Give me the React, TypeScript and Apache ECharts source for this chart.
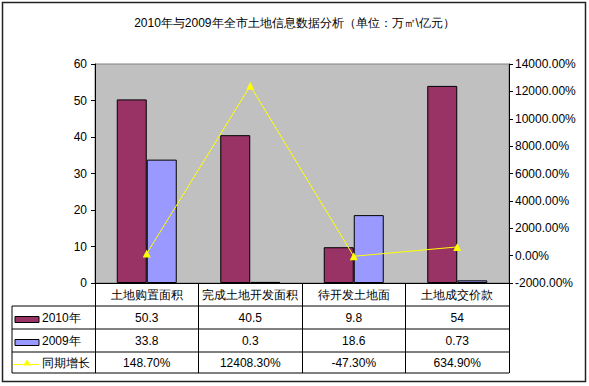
import React, { useEffect, useRef } from "react";
import * as echarts from "echarts";

const categories = ["土地购置面积", "完成土地开发面积", "待开发土地面", "土地成交价款"];
const values2010 = [50.3, 40.5, 9.8, 54];
const values2009 = [33.8, 0.3, 18.6, 0.73];
const growth = [148.7, 12408.3, -47.3, 634.9];
const seriesNames = ["2010年", "2009年", "同期增长"];
const titleText = "2010年与2009年全市土地信息数据分析（单位：万㎡\\亿元）";

const FONT = "Liberation Sans, Arial, sans-serif";
const C2010 = "#993366";
const C2009 = "#9999FF";
const CLINE = "#FFFF00";

const GL = 95, GR = 509, GT = 64, GB = 283;
const rowLines = [306, 329, 352, 373];
const tableLeft = 12;

export default function App() {
  const ref = useRef<HTMLDivElement>(null);
  useEffect(() => {
    const chart = echarts.init(ref.current!, null, { renderer: "svg" });
    const colW = (GR - GL) / categories.length;
    const graphics: any[] = [];
    graphics.push({
      type: "rect",
      shape: { x: 2.5, y: 2.5, width: 583, height: 379 },
      style: { fill: "none", stroke: "#222", lineWidth: 1.5 },
      z: 100,
    });
    rowLines.forEach((y) => {
      graphics.push({
        type: "line",
        shape: { x1: tableLeft, y1: y, x2: GR, y2: y },
        style: { stroke: "#000", lineWidth: 1 },
        z: 100,
      });
    });
    graphics.push({
      type: "line",
      shape: { x1: tableLeft, y1: rowLines[0], x2: tableLeft, y2: rowLines[3] },
      style: { stroke: "#000", lineWidth: 1 },
      z: 100,
    });
    const rows: { vals: string[]; name: string; kind: string; color: string }[] = [
      { vals: values2010.map(String), name: seriesNames[0], kind: "bar", color: C2010 },
      { vals: values2009.map(String), name: seriesNames[1], kind: "bar", color: C2009 },
      { vals: growth.map((g) => g.toFixed(2) + "%"), name: seriesNames[2], kind: "line", color: CLINE },
    ];
    rows.forEach((r, ri) => {
      const yc = (rowLines[ri] + rowLines[ri + 1]) / 2;
      if (r.kind === "bar") {
        graphics.push({
          type: "rect",
          shape: { x: 15, y: yc - 1, width: 24, height: 6 },
          style: { fill: r.color, stroke: "#000", lineWidth: 1 },
          z: 100,
        });
      } else {
        graphics.push({
          type: "line",
          shape: { x1: 14, y1: yc + 2, x2: 39, y2: yc + 2 },
          style: { stroke: r.color, lineWidth: 1 },
          z: 100,
        });
        graphics.push({
          type: "polygon",
          shape: { points: [[27, yc - 3], [23, yc + 3], [31, yc + 3]] },
          style: { fill: r.color },
          z: 101,
        });
      }
      graphics.push({
        type: "text",
        x: 42,
        y: yc,
        style: { text: r.name, fill: "#000", font: `12px ${FONT}`, verticalAlign: "middle", align: "left" },
        z: 100,
      });
      r.vals.forEach((v, ci) => {
        graphics.push({
          type: "text",
          x: GL + colW * (ci + 0.5),
          y: yc,
          style: { text: v, fill: "#000", font: `12px ${FONT}`, verticalAlign: "middle", align: "center" },
          z: 100,
        });
      });
    });

    chart.setOption({
      animation: false,
      backgroundColor: "#fff",
      title: {
        text: titleText,
        left: "center",
        top: 12,
        textStyle: { fontFamily: FONT, fontSize: 12, fontWeight: "normal", color: "#000" },
      },
      grid: {
        left: GL,
        right: 589 - GR,
        top: GT,
        bottom: 386 - GB,
        show: true,
        backgroundColor: "#C0C0C0",
        borderColor: "#808080",
        borderWidth: 1,
      },
      xAxis: {
        type: "category",
        data: categories,
        axisLine: { lineStyle: { color: "#000" } },
        axisTick: { show: true, length: rowLines[3] - GB, lineStyle: { color: "#000" } },
        axisLabel: { fontFamily: FONT, fontSize: 12, color: "#000", margin: 6, interval: 0 },
      },
      yAxis: [
        {
          type: "value",
          min: 0,
          max: 60,
          interval: 10,
          splitLine: { show: false },
          axisLine: { show: true, lineStyle: { color: "#000" } },
          axisTick: { show: true, length: 4, lineStyle: { color: "#000" } },
          axisLabel: { fontFamily: FONT, fontSize: 12, color: "#000", margin: 8 },
        },
        {
          type: "value",
          min: -2000,
          max: 14000,
          interval: 2000,
          position: "right",
          splitLine: { show: false },
          axisLine: { show: true, lineStyle: { color: "#000" } },
          axisTick: { show: true, length: 4, lineStyle: { color: "#000" } },
          axisLabel: {
            fontFamily: FONT,
            fontSize: 12,
            color: "#000",
            margin: 6,
            formatter: (v: number) => v.toFixed(2) + "%",
          },
        },
      ],
      series: [
        {
          name: seriesNames[0],
          type: "bar",
          data: values2010,
          barWidth: 30,
          barGap: "0%",
          itemStyle: { color: C2010, borderColor: "#000", borderWidth: 1 },
        },
        {
          name: seriesNames[1],
          type: "bar",
          data: values2009,
          barWidth: 30,
          barGap: "0%",
          itemStyle: { color: C2009, borderColor: "#000", borderWidth: 1 },
        },
        {
          name: seriesNames[2],
          type: "line",
          yAxisIndex: 1,
          data: growth,
          symbol: "triangle",
          symbolSize: 8,
          lineStyle: { color: CLINE, width: 1 },
          itemStyle: { color: CLINE },
        },
      ],
      graphic: graphics,
    });
    return () => chart.dispose();
  }, []);
  return <div ref={ref} style={{ width: 589, height: 386, position: "absolute", left: 0, top: 0 }} />;
}
